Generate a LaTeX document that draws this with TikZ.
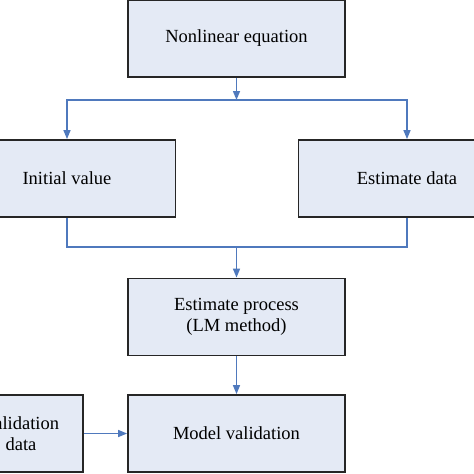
\documentclass[tikz,border=0pt]{standalone}
\usepackage{fontspec}
\setmainfont{Liberation Serif}
\usetikzlibrary{arrows.meta}
\definecolor{boxfill}{HTML}{E4EAF5}
\definecolor{boxdraw}{HTML}{262626}
\definecolor{arrowblue}{HTML}{4F79BD}
\tikzset{
  flowbox/.style={draw=boxdraw, line width=1.8pt, fill=boxfill, rectangle,
    minimum width=217pt, minimum height=77pt, inner sep=0pt, align=center,
    font=\fontsize{18.5}{21}\selectfont},
  conn/.style={draw=arrowblue, line width=1.4pt},
  arr/.style={conn, -{Triangle[length=9pt,width=7pt]}}
}
\begin{document}
\begin{tikzpicture}[x=1pt,y=-1pt]
\clip (0,0) rectangle (474,474);
\fill[white] (0,0) rectangle (474,474);
\node[flowbox] (top) at (236.5,38.5) {Nonlinear equation};
\node[flowbox] (init) at (67,178.5) {Initial value};
\node[flowbox] (est) at (407,178.5) {Estimate data};
\node[flowbox] (proc) at (236.5,317) {Estimate process\\(LM method)};
\node[flowbox] (val) at (236.5,433.5) {Model validation};
\node[flowbox, minimum width=124pt] (vdata) at (21,433.5) {Validation\\data};
\coordinate (j1) at (236.5,100);
\coordinate (j2) at (236.5,247);
\draw[arr] (top.south) -- (j1);
\draw[arr] (j1) -| (init.north);
\draw[arr] (j1) -| (est.north);
\draw[conn] (init.south) |- (j2);
\draw[conn] (est.south) |- (j2);
\draw[arr] (j2) -- (proc.north);
\draw[arr] (proc.south) -- (val.north);
\draw[arr] (vdata.east) -- (val.west);
\end{tikzpicture}
\end{document}
